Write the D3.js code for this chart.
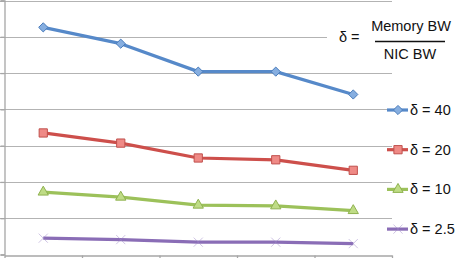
<!DOCTYPE html>
<html>
<head>
<meta charset="utf-8">
<script src="https://cdn.jsdelivr.net/npm/d3@7"></script>
<style>
  body { margin: 0; background: #fff; }
  svg { display: block; font-family: "Liberation Sans", Arial, sans-serif; }
</style>
</head>
<body>
<svg width="474" height="258"></svg>
<script>
// data (values in gridline units)
const categories = ['1', '2', '3', '4', '5'];
const seriesNames = ['δ = 40', 'δ = 20', 'δ = 10', 'δ = 2.5'];
const delta40 = [6.26, 5.81, 5.04, 5.04, 4.41];
const delta20 = [3.35, 3.07, 2.66, 2.61, 2.32];
const delta10 = [1.72, 1.58, 1.36, 1.34, 1.21];
const delta25 = [0.45, 0.41, 0.34, 0.34, 0.30];
const yTicks = [0, 1, 2, 3, 4, 5, 6, 7];

const series = [
    { name: seriesNames[0], values: delta40, line: '#5689c9', fill: '#86aee0', stroke: '#4a7cbb', marker: 'diamond' },
    { name: seriesNames[1], values: delta20, line: '#cd4f4b', fill: '#ef8a86', stroke: '#c0504d', marker: 'square' },
    { name: seriesNames[2], values: delta10, line: '#9cc15a', fill: '#bfdc86', stroke: '#8fb24f', marker: 'triangle' },
    { name: seriesNames[3], values: delta25, line: '#8a6db6', fill: 'none', stroke: '#9d86c6', marker: 'x' },
];

const svg = d3.select('svg');

const x = d3.scaleLinear().domain([0, categories.length]).range([4.5, 392]);
const y = d3.scaleLinear().domain([0, 7]).range([254.5, 0.5]);

// gridlines
svg.append('g')
    .selectAll('line')
    .data(yTicks.slice(1))
    .join('line')
    .attr('x1', 0)
    .attr('x2', 392)
    .attr('y1', (d) => Math.round(y(d)) + 0.5)
    .attr('y2', (d) => Math.round(y(d)) + 0.5)
    .attr('stroke', '#b3b3b3')
    .attr('stroke-width', 1.2);

// y axis
const yAxis = d3.axisLeft(y).tickValues(yTicks).tickSize(4).tickFormat('');
svg.append('g')
    .attr('transform', 'translate(4.5,0)')
    .call(yAxis)
    .call((g) => g.selectAll('line,path').attr('stroke', '#a6a6a6').attr('stroke-width', 1.3));

// x axis, ticks on category boundaries
const xAxis = d3.axisBottom(x).ticks(categories.length).tickSize(5).tickSizeOuter(0).tickFormat('');
svg.append('g')
    .attr('transform', 'translate(0,' + (Math.round(y(0)) + 0.5) + ')')
    .call(xAxis)
    .call((g) => g.selectAll('line,path').attr('stroke', '#a6a6a6').attr('stroke-width', 1.3));

// white box behind the delta formula
svg.append('rect')
    .attr('x', 327).attr('y', 8).attr('width', 147).attr('height', 58)
    .attr('fill', '#fff');

const symbolOf = {
    diamond: () => 'M0,-4.6L4.6,0L0,4.6L-4.6,0Z',
    square: d3.symbol().type(d3.symbolSquare).size(68),
    triangle: d3.symbol().type(d3.symbolTriangle).size(46),
    x: d3.symbol().type(d3.symbolTimes).size(56),
};

function drawMarker(g, s, cx, cy) {
    g.append('path')
        .attr('d', symbolOf[s.marker]())
        .attr('transform', 'translate(' + cx + ',' + cy + ')')
        .attr('fill', s.marker === 'x' ? s.stroke : s.fill)
        .attr('stroke', s.stroke)
        .attr('stroke-width', s.marker === 'x' ? 0.5 : 1);
}

const cx = (i) => (x(i) + x(i + 1)) / 2;
const line = d3.line()
    .x((d, i) => cx(i))
    .y((d) => y(d));

series.forEach((s) => {
    const g = svg.append('g');
    g.append('path')
        .attr('d', line(s.values))
        .attr('fill', 'none')
        .attr('stroke', s.line)
        .attr('stroke-width', 3.2)
        .attr('stroke-linejoin', 'round');
    s.values.forEach((v, i) => drawMarker(g, s, cx(i), y(v)));
});

// legend
series.forEach((s, i) => {
    const ly = 110 + i * 39.7;
    const g = svg.append('g');
    g.append('line')
        .attr('x1', 387).attr('x2', 408)
        .attr('y1', ly).attr('y2', ly)
        .attr('stroke', s.line).attr('stroke-width', 3.2);
    drawMarker(g, s, 398, ly);
    g.append('text')
        .attr('x', 410).attr('y', ly + 5)
        .attr('font-size', 14.5)
        .attr('fill', '#111')
        .text(s.name);
});

// formula
svg.append('text')
    .attr('x', 339).attr('y', 42)
    .attr('font-size', 14.5).attr('fill', '#111')
    .text('δ =');
svg.append('text')
    .attr('x', 411).attr('y', 31)
    .attr('text-anchor', 'middle')
    .attr('font-size', 14.5).attr('fill', '#111')
    .text('Memory BW');
svg.append('line')
    .attr('x1', 375).attr('x2', 445)
    .attr('y1', 41.5).attr('y2', 41.5)
    .attr('stroke', '#111').attr('stroke-width', 1.3);
svg.append('text')
    .attr('x', 410).attr('y', 58.5)
    .attr('text-anchor', 'middle')
    .attr('font-size', 14.5).attr('fill', '#111')
    .text('NIC BW');
</script>
</body>
</html>
